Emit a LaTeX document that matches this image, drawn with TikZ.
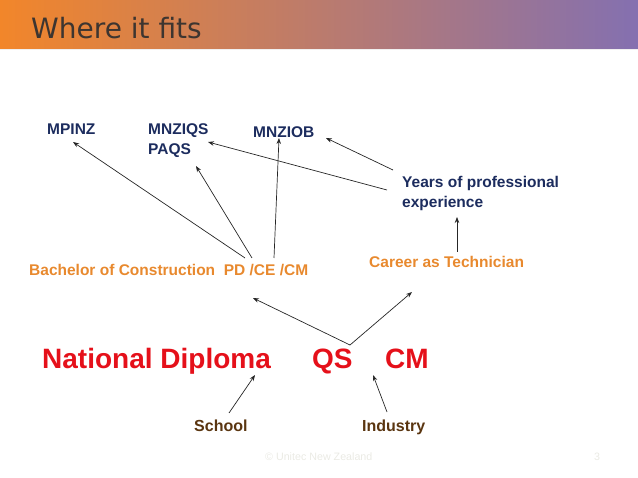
\documentclass[tikz,border=0pt]{standalone}
\usepackage{fontspec}
\setmainfont{Liberation Sans}
\newfontfamily\titlefont{DejaVu Sans}
\usetikzlibrary{arrows.meta}
\definecolor{navy}{HTML}{1C2C5E}
\definecolor{orng}{HTML}{E8892E}
\definecolor{redd}{HTML}{E5101A}
\definecolor{brwn}{HTML}{5A3510}
\definecolor{hdrL}{HTML}{F2862A}
\definecolor{hdrR}{HTML}{8470B0}
\definecolor{ttl}{HTML}{3D3530}
\definecolor{foot}{HTML}{EAEAE4}
\tikzset{
  lbl/.style={inner sep=0pt, anchor=base west, font=\bfseries\fontsize{15.5}{20}\selectfont, align=left},
  qual/.style={lbl, text=navy},
  path/.style={lbl, text=orng},
  big/.style={inner sep=0pt, anchor=base west, font=\bfseries\fontsize{28}{32}\selectfont, text=redd},
  src/.style={lbl, text=brwn, font=\bfseries\fontsize{16}{20}\selectfont},
  arr/.style={draw=black!85, line width=0.7pt, -{Stealth[length=6pt,width=4.5pt]}}
}
\begin{document}
\begin{tikzpicture}[x=1pt,y=-1pt]
\useasboundingbox (0,0) rectangle (638,478);
\shade[left color=hdrL, right color=hdrR] (0,0) rectangle (638,49);
\fill[black!6] (0,49) rectangle (638,50.5);
\node[inner sep=0pt, anchor=base west, font=\titlefont\fontsize{28}{32}\selectfont, text=ttl] (title) at (31,39) {Where it fits};

\node[qual] (mpinz) at (47,135) {MPINZ};
\node[qual] (mnziqs) at (148,155) {MNZIQS\\PAQS};
\node[qual] (mnziob) at (253,138) {MNZIOB};
\node[qual] (years) at (402,208) {Years of professional\\experience};
\node[path] (career) at (369,268) {Career as Technician};
\node[path] (bach) at (29,276) {Bachelor of Construction\ \ PD /CE /CM};
\node[big] (natdip) at (42,369) {National Diploma};
\node[big] (qs) at (312,369) {QS};
\node[big] (cm) at (385,369) {CM};
\node[src] (school) at (194,432) {School};
\node[src] (industry) at (362,432) {Industry};
\node[inner sep=0pt, anchor=base west, font=\fontsize{10.7}{12}\selectfont, text=foot] (footer) at (265,461) {© Unitec New Zealand};
\node[inner sep=0pt, anchor=base west, font=\fontsize{10.7}{12}\selectfont, text=foot] (pagenum) at (594,461) {3};

% arrow endpoints
\coordinate (b1) at (245,258);
\coordinate (b2) at (252,258);
\coordinate (b3) at (274,258);
\coordinate (t1) at (73,142);
\coordinate (t2) at (196,166);
\coordinate (t3) at (279,138);
\coordinate (y1) at (387,190);
\coordinate (y2) at (393,170);
\coordinate (ty1) at (208,142);
\coordinate (ty2) at (326,138);
\coordinate (c1) at (457,252);
\coordinate (c2) at (457,217);
\coordinate (q0) at (350,345);
\coordinate (q1) at (253,298);
\coordinate (q2) at (412,292);
\coordinate (s0) at (229,413);
\coordinate (s1) at (255,375);
\coordinate (i0) at (387,412);
\coordinate (i1) at (373,375);

\draw[arr] (b1) -- (t1);
\draw[arr] (b2) -- (t2);
\draw[arr] (b3) -- (t3);
\draw[arr] (y1) -- (ty1);
\draw[arr] (y2) -- (ty2);
\draw[arr] (c1) -- (c2);
\draw[arr] (q0) -- (q1);
\draw[arr] (q0) -- (q2);
\draw[arr] (s0) -- (s1);
\draw[arr] (i0) -- (i1);
\end{tikzpicture}
\end{document}
